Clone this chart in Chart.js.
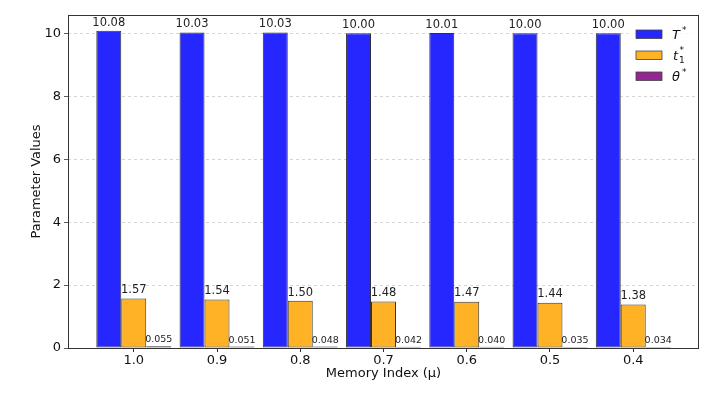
<!DOCTYPE html>
<html><head><meta charset="utf-8">
<script src="https://cdn.jsdelivr.net/npm/chart.js@4"></script>
<style>html,body{margin:0;padding:0;background:#fff}#wrap{width:711px;height:393px}</style>
</head><body><div id="wrap"><canvas id="c" width="711" height="393"></canvas></div>
<script>
const categories = ['1.0','0.9','0.8','0.7','0.6','0.5','0.4'];
const T_star = [10.08,10.03,10.03,10.00,10.01,10.00,10.00];
const t1_star = [1.57,1.54,1.50,1.48,1.47,1.44,1.38];
const theta_star = [0.055,0.051,0.048,0.042,0.040,0.035,0.034];
const yTicks = [0,2,4,6,8,10];
const seriesNames = ['T*','t1*','θ*'];
const seriesDecimals = [2,2,3];

const FONT = "'DejaVu Sans', sans-serif";
const colors = ['rgb(38,38,255)','rgb(255,178,38)','rgb(147,38,147)'];

function toPoints(arr){ return arr.map((v,i)=>({x:i,y:v})); }

const frame = {
  id:'frame',
  afterDraw(chart){
    const {ctx, chartArea:a} = chart;
    ctx.save();
    ctx.strokeStyle='#333'; ctx.lineWidth=1;
    ctx.strokeRect(Math.round(a.left)+0.5, Math.round(a.top)+0.5, Math.round(a.right-a.left)-1, Math.round(a.bottom-a.top));
    ctx.restore();
  }
};

const valueLabels = {
  id:'valueLabels',
  afterDatasetsDraw(chart){
    const ctx = chart.ctx;
    ctx.save();
    ctx.fillStyle='#222';
    ctx.textAlign='center'; ctx.textBaseline='bottom';
    chart.data.datasets.forEach((ds,di)=>{
      const meta = chart.getDatasetMeta(di);
      ctx.font = (di===2 ? '9.5px ' : '11.5px ') + FONT;
      meta.data.forEach((bar,i)=>{
        const v = ds.data[i].y;
        ctx.fillText(v.toFixed(seriesDecimals[di]), bar.x, bar.y - (di===2?1.5:2.5));
      });
    });
    ctx.restore();
  }
};

const legendPlugin = {
  id:'customLegend',
  afterDraw(chart){
    const ctx = chart.ctx;
    ctx.save();
    ctx.fillStyle='rgba(255,255,255,0.8)';
    ctx.fillRect(628,20,69,68);
    const rows = [34, 55, 76];
    rows.forEach((cy,i)=>{
      ctx.fillStyle=colors[i];
      ctx.fillRect(636, cy-4, 26, 8.5);
      ctx.strokeStyle='#444'; ctx.lineWidth=0.8;
      ctx.strokeRect(636, cy-4, 26, 8.5);
    });
    ctx.fillStyle='#111';
    ctx.textAlign='left'; ctx.textBaseline='alphabetic';
    const big = 'italic 13px ' + FONT, small = '9px ' + FONT;
    ctx.font=big; ctx.fillText('T', 672, 38.5);
    let w = ctx.measureText('T').width;
    ctx.font=small; ctx.fillText('*', 672+w+2, 33);
    ctx.font=big; ctx.fillText('t', 673, 59.5);
    w = ctx.measureText('t').width;
    ctx.font=small; ctx.fillText('1', 673+w+1, 63); ctx.fillText('*', 673+w+1.5, 53);
    ctx.font=big; ctx.fillText('θ', 672, 80.5);
    w = ctx.measureText('θ').width;
    ctx.font=small; ctx.fillText('*', 672+w+2, 75);
    ctx.restore();
  }
};

new Chart(document.getElementById('c'), {
  type:'bar',
  data:{
    datasets:[
      {label:seriesNames[0], data:toPoints(T_star), backgroundColor:colors[0], borderColor:'#333', borderWidth:1, borderSkipped:false},
      {label:seriesNames[1], data:toPoints(t1_star), backgroundColor:colors[1], borderColor:'#333', borderWidth:1, borderSkipped:false},
      {label:seriesNames[2], data:toPoints(theta_star), backgroundColor:colors[2], borderColor:'#333', borderWidth:1, borderSkipped:false}
    ]
  },
  options:{
    responsive:false, animation:false, devicePixelRatio:1,
    categoryPercentage:0.9, barPercentage:1.0,
    layout:{padding:{top:15,right:12,left:0,bottom:0}},
    plugins:{legend:{display:false}, tooltip:{enabled:false}},
    scales:{
      x:{
        type:'linear', min:-0.79, max:6.79, offset:false,
        afterBuildTicks(s){ s.ticks = categories.map((c,i)=>({value:i})); },
        afterFit(s){ s.height = 45; },
        ticks:{ callback:(v)=>categories[v] ?? '', font:{family:FONT,size:13}, color:'#111', padding:1, maxRotation:0, autoSkip:false },
        grid:{ offset:false, drawOnChartArea:false, drawTicks:true, tickLength:4, tickColor:'#333' },
        border:{display:false},
        title:{ display:true, text:'Memory Index (μ)', font:{family:FONT,size:13}, color:'#111', padding:{top:0,bottom:12} }
      },
      y:{
        min:0, max:10.584,
        afterBuildTicks(s){ s.ticks = yTicks.map(v=>({value:v})); },
        afterFit(s){ s.width = 68; },
        ticks:{ font:{family:FONT,size:13}, color:'#111', padding:3 },
        grid:{ color:'rgba(180,180,180,0.7)', lineWidth:0.8, tickLength:4, tickColor:'#333', tickBorderDash:[] },
        border:{display:false, dash:[3,3]},
        title:{ display:true, text:'Parameter Values', font:{family:FONT,size:13}, color:'#111', padding:{top:29,bottom:0} }
      }
    }
  },
  plugins:[frame, valueLabels, legendPlugin]
});
</script></body></html>
